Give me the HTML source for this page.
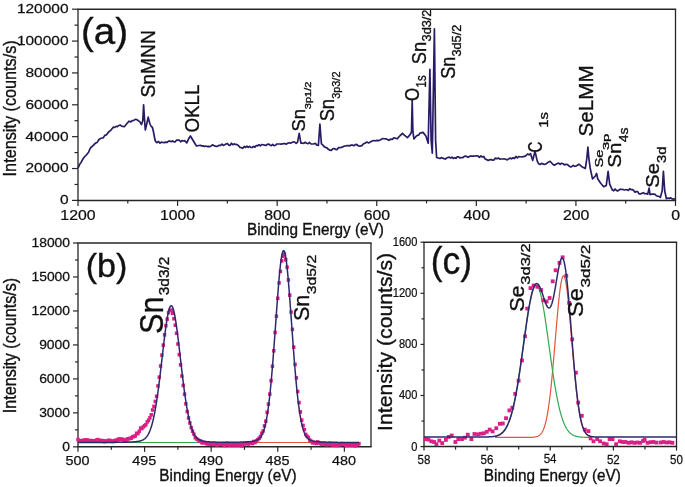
<!DOCTYPE html>
<html><head><meta charset="utf-8"><title>XPS spectra</title>
<style>
html,body{margin:0;padding:0;background:#fff;}
body{width:685px;height:487px;overflow:hidden;}
svg{display:block;}
text{font-family:"Liberation Sans", Arial, Helvetica, sans-serif;}
</style></head><body>
<svg width="685" height="487" viewBox="0 0 685 487">
<rect x="0" y="0" width="685" height="487" fill="#fff"/>
<line x1="77.35" y1="9.2" x2="676.15" y2="9.2" stroke="#262626" stroke-width="1.5"/>
<line x1="77.35" y1="200.4" x2="676.15" y2="200.4" stroke="#262626" stroke-width="1.5"/>
<line x1="78.0" y1="9.2" x2="78.0" y2="200.4" stroke="#262626" stroke-width="1.3"/>
<line x1="675.5" y1="9.2" x2="675.5" y2="200.4" stroke="#262626" stroke-width="1.3"/>
<line x1="675.5" y1="200.4" x2="675.5" y2="205.9" stroke="#262626" stroke-width="1.2"/>
<line x1="575.92" y1="200.4" x2="575.92" y2="205.9" stroke="#262626" stroke-width="1.2"/>
<line x1="476.33" y1="200.4" x2="476.33" y2="205.9" stroke="#262626" stroke-width="1.2"/>
<line x1="376.75" y1="200.4" x2="376.75" y2="205.9" stroke="#262626" stroke-width="1.2"/>
<line x1="277.17" y1="200.4" x2="277.17" y2="205.9" stroke="#262626" stroke-width="1.2"/>
<line x1="177.58" y1="200.4" x2="177.58" y2="205.9" stroke="#262626" stroke-width="1.2"/>
<line x1="78" y1="200.4" x2="78" y2="205.9" stroke="#262626" stroke-width="1.2"/>
<line x1="625.71" y1="200.4" x2="625.71" y2="203.4" stroke="#262626" stroke-width="1.2"/>
<line x1="526.12" y1="200.4" x2="526.12" y2="203.4" stroke="#262626" stroke-width="1.2"/>
<line x1="426.54" y1="200.4" x2="426.54" y2="203.4" stroke="#262626" stroke-width="1.2"/>
<line x1="326.96" y1="200.4" x2="326.96" y2="203.4" stroke="#262626" stroke-width="1.2"/>
<line x1="227.38" y1="200.4" x2="227.38" y2="203.4" stroke="#262626" stroke-width="1.2"/>
<line x1="127.79" y1="200.4" x2="127.79" y2="203.4" stroke="#262626" stroke-width="1.2"/>
<line x1="72" y1="200.4" x2="78.0" y2="200.4" stroke="#262626" stroke-width="1.2"/>
<line x1="72" y1="168.53" x2="78.0" y2="168.53" stroke="#262626" stroke-width="1.2"/>
<line x1="72" y1="136.67" x2="78.0" y2="136.67" stroke="#262626" stroke-width="1.2"/>
<line x1="72" y1="104.8" x2="78.0" y2="104.8" stroke="#262626" stroke-width="1.2"/>
<line x1="72" y1="72.93" x2="78.0" y2="72.93" stroke="#262626" stroke-width="1.2"/>
<line x1="72" y1="41.07" x2="78.0" y2="41.07" stroke="#262626" stroke-width="1.2"/>
<line x1="72" y1="9.2" x2="78.0" y2="9.2" stroke="#262626" stroke-width="1.2"/>
<line x1="74.5" y1="184.47" x2="78.0" y2="184.47" stroke="#262626" stroke-width="1.2"/>
<line x1="74.5" y1="152.6" x2="78.0" y2="152.6" stroke="#262626" stroke-width="1.2"/>
<line x1="74.5" y1="120.73" x2="78.0" y2="120.73" stroke="#262626" stroke-width="1.2"/>
<line x1="74.5" y1="88.87" x2="78.0" y2="88.87" stroke="#262626" stroke-width="1.2"/>
<line x1="74.5" y1="57" x2="78.0" y2="57" stroke="#262626" stroke-width="1.2"/>
<line x1="74.5" y1="25.13" x2="78.0" y2="25.13" stroke="#262626" stroke-width="1.2"/>
<polyline points="78.10,167.80 79.80,164.12 81.50,161.70 83.20,158.50 84.57,156.65 85.93,155.60 87.30,153.80 88.60,152.18 89.90,149.04 91.20,147.03 92.50,146.20 95.50,143.10 97.05,142.57 98.60,140.02 100.15,138.69 101.70,138.00 103.25,137.82 104.80,135.38 106.35,134.92 107.90,132.90 109.27,131.45 110.63,130.41 112.00,128.70 113.37,127.13 114.73,127.40 116.10,126.30 117.47,126.68 118.83,125.48 120.20,125.00 121.57,126.10 122.93,126.51 124.30,126.70 127.40,123.00 129.10,121.21 130.80,121.90 132.50,120.50 133.87,120.37 135.23,119.40 136.60,119.50 139.70,121.60 141.50,124.60 142.80,120.50 143.60,104.90 144.60,120.50 145.30,130.00 146.50,125.00 148.20,117.20 149.80,123.50 151.20,126.50 152.40,127.20 153.50,132.00 155.10,140.50 156.10,142.10 157.10,142.70 158.53,141.49 159.97,143.15 161.40,142.11 162.83,142.47 164.27,142.64 165.70,142.10 167.13,142.38 168.57,141.05 170.00,141.10 171.33,141.73 172.65,140.91 173.98,141.95 175.31,141.79 176.64,140.03 177.96,140.08 179.29,140.22 180.62,141.83 181.95,140.63 183.27,141.01 184.60,140.70 186.80,142.80 188.60,138.96 190.40,136.00 193.40,141.00 196.30,145.80 197.65,145.79 198.99,145.50 200.34,145.40 201.68,145.89 203.03,145.87 204.38,146.55 205.72,146.04 207.07,146.56 208.42,146.38 209.76,146.65 211.11,145.92 212.45,144.78 213.80,145.50 215.16,146.19 216.52,146.31 217.88,146.07 219.24,145.23 220.60,145.44 221.96,144.22 223.32,145.48 224.68,144.81 226.04,144.07 227.40,143.47 228.76,145.11 230.12,145.30 231.48,143.21 232.84,144.67 234.20,143.90 235.66,144.46 237.12,144.65 238.58,145.73 240.04,147.53 241.50,147.70 242.84,148.36 244.18,146.38 245.53,147.48 246.87,146.07 248.21,147.39 249.55,146.38 250.89,147.43 252.23,147.49 253.58,146.29 254.92,147.21 256.26,145.54 257.60,145.80 258.98,144.78 260.36,145.84 261.73,144.50 263.11,144.78 264.49,145.15 265.87,145.51 267.24,144.42 268.62,144.08 270.00,145.00 271.37,145.66 272.74,144.29 274.11,145.56 275.48,145.27 276.84,143.98 278.21,144.01 279.58,143.99 280.95,144.12 282.32,143.86 283.69,143.63 285.06,143.61 286.42,144.17 287.79,143.07 289.16,142.75 290.53,143.23 291.90,142.60 293.30,141.95 294.70,142.01 296.10,143.43 297.50,142.30 299.20,133.30 300.90,143.10 302.33,143.22 303.77,143.36 305.20,142.26 306.63,143.22 308.07,143.66 309.50,142.51 310.93,143.90 312.37,144.01 313.80,143.80 315.33,143.33 316.87,145.08 318.40,145.30 319.90,124.10 321.40,143.80 322.77,144.93 324.13,146.59 325.50,147.40 326.95,147.83 328.40,149.36 329.85,150.17 331.30,150.40 332.76,148.89 334.23,148.51 335.69,149.40 337.15,149.57 338.61,147.54 340.07,147.53 341.54,147.37 343.00,146.70 344.33,146.10 345.67,146.00 347.00,145.69 348.33,145.61 349.67,145.91 351.00,145.06 352.33,145.03 353.67,145.70 355.00,144.90 356.70,144.29 358.40,145.92 360.10,146.20 361.83,145.68 363.57,143.72 365.30,143.10 367.00,142.09 368.70,142.97 370.40,141.90 372.10,140.96 373.80,140.48 375.50,140.80 377.23,140.32 378.97,140.57 380.70,139.80 382.40,138.59 384.10,138.74 385.80,138.80 388.90,140.30 390.60,139.07 392.30,139.30 394.00,137.70 397.10,138.80 400.20,135.50 402.50,133.40 404.30,135.20 407.40,137.70 410.50,134.10 411.50,131.70 412.20,100.50 412.90,131.70 413.90,138.90 415.80,136.70 417.23,135.36 418.67,135.08 420.10,133.10 423.00,132.40 425.90,136.00 428.20,143.20 429.90,69.30 431.10,140.00 432.30,153.20 434.40,28.90 435.60,140.00 436.60,157.50 440.00,158.50 441.33,157.70 442.65,158.00 443.98,158.61 445.31,159.06 446.64,158.03 447.96,157.46 449.29,157.16 450.62,157.98 451.95,157.17 453.27,158.45 454.60,157.70 455.93,158.34 457.25,156.80 458.58,156.91 459.91,157.98 461.24,157.51 462.56,157.77 463.89,156.66 465.22,156.09 466.55,156.34 467.87,157.35 469.20,156.60 470.67,156.00 472.13,156.06 473.60,156.12 475.07,156.02 476.53,155.90 478.00,156.00 479.43,157.26 480.87,155.91 482.30,157.00 483.76,156.49 485.22,159.14 486.68,159.58 488.14,160.39 489.60,159.90 491.07,159.44 492.53,160.26 494.00,159.89 495.47,158.02 496.93,158.86 498.40,158.00 499.87,159.06 501.33,158.99 502.80,158.99 504.27,158.80 505.73,159.23 507.20,159.90 508.65,158.89 510.10,158.12 511.55,158.86 513.00,157.78 514.45,158.52 515.90,156.42 517.35,157.90 518.80,156.60 520.26,156.77 521.71,157.02 523.17,156.70 524.63,156.45 526.09,155.48 527.54,153.99 529.00,154.80 530.50,153.60 532.70,160.40 535.00,151.30 537.20,160.90 538.60,163.80 540.05,164.51 541.50,163.43 542.95,163.88 544.40,164.50 545.83,164.06 547.25,162.95 548.67,161.91 550.10,161.30 553.00,164.50 554.43,165.27 555.87,164.35 557.30,163.55 558.73,163.16 560.17,164.30 561.60,163.30 563.04,163.72 564.49,164.86 565.93,164.39 567.37,164.52 568.81,165.73 570.26,166.83 571.70,166.60 573.14,165.40 574.58,166.28 576.02,166.09 577.46,165.35 578.90,164.20 582.40,167.10 585.30,168.50 586.80,158.70 587.90,147.20 588.90,158.70 590.30,168.80 592.50,178.90 595.40,176.00 596.60,173.40 597.70,178.70 600.30,182.70 603.70,186.70 606.30,185.40 608.10,171.40 609.70,184.10 612.40,190.10 613.72,190.81 615.04,189.02 616.36,190.38 617.68,190.90 619.00,190.10 620.33,189.07 621.67,189.51 623.00,189.46 624.33,189.98 625.67,189.71 627.00,189.77 628.33,190.40 629.67,188.65 631.00,189.70 632.33,189.52 633.67,190.48 635.00,192.10 636.34,191.53 637.68,191.67 639.02,193.92 640.36,193.92 641.70,193.40 643.20,192.66 644.70,193.75 646.20,193.52 647.70,194.10 649.10,188.10 650.00,194.70 651.85,193.99 653.70,194.10 655.04,194.43 656.38,195.74 657.72,196.27 659.06,196.43 660.40,197.40 662.20,190.70 663.40,171.40 664.70,190.70 666.40,198.70 667.85,198.02 669.30,198.32 670.75,197.87 672.20,198.82 673.65,199.18 675.10,198.70" fill="none" stroke="#2a1c64" stroke-width="1.7" stroke-linejoin="round" />
<text transform="translate(59.95,204.33) scale(1.1300,1.0000)" font-size="13.7" fill="#111" stroke="#111" stroke-width="0.25">0</text>
<text transform="translate(25.5,172.46) scale(1.1300,1.0000)" font-size="13.7" fill="#111" stroke="#111" stroke-width="0.25">20000</text>
<text transform="translate(25.5,140.59) scale(1.1300,1.0000)" font-size="13.7" fill="#111" stroke="#111" stroke-width="0.25">40000</text>
<text transform="translate(25.5,108.73) scale(1.1300,1.0000)" font-size="13.7" fill="#111" stroke="#111" stroke-width="0.25">60000</text>
<text transform="translate(25.5,76.86) scale(1.1300,1.0000)" font-size="13.7" fill="#111" stroke="#111" stroke-width="0.25">80000</text>
<text transform="translate(16.91,44.99) scale(1.1300,1.0000)" font-size="13.7" fill="#111" stroke="#111" stroke-width="0.25">100000</text>
<text transform="translate(16.91,13.13) scale(1.1300,1.0000)" font-size="13.7" fill="#111" stroke="#111" stroke-width="0.25">120000</text>
<text transform="translate(671.36,219.68) scale(1.1000,1.0000)" font-size="14.4" fill="#111" stroke="#111" stroke-width="0.25">0</text>
<text transform="translate(562.91,219.68) scale(1.1000,1.0000)" font-size="14.4" fill="#111" stroke="#111" stroke-width="0.25">200</text>
<text transform="translate(463.57,219.68) scale(1.1000,1.0000)" font-size="14.4" fill="#111" stroke="#111" stroke-width="0.25">400</text>
<text transform="translate(363.74,219.68) scale(1.1000,1.0000)" font-size="14.4" fill="#111" stroke="#111" stroke-width="0.25">600</text>
<text transform="translate(264.2,219.68) scale(1.1000,1.0000)" font-size="14.4" fill="#111" stroke="#111" stroke-width="0.25">800</text>
<text transform="translate(159.94,219.68) scale(1.1000,1.0000)" font-size="14.4" fill="#111" stroke="#111" stroke-width="0.25">1000</text>
<text transform="translate(60.36,219.68) scale(1.1000,1.0000)" font-size="14.4" fill="#111" stroke="#111" stroke-width="0.25">1200</text>
<text transform="translate(80.96,43.97) scale(1.0419,1.0000)" font-size="36.95" fill="#111" stroke="#111" stroke-width="0.35">(a)</text>
<text transform="translate(154.62,97.49) rotate(-90) scale(0.9456,1.0000)" font-size="20.35" fill="#111" stroke="#111" stroke-width="0.35">SnMNN</text>
<text transform="translate(199.43,132.47) rotate(-90) scale(0.9485,1.0000)" font-size="19.79" fill="#111" stroke="#111" stroke-width="0.35">OKLL</text>
<text transform="translate(304.54,131.45) rotate(-90) scale(0.9872,1.0000)" font-size="18.66" fill="#111" stroke="#111" stroke-width="0.35">Sn</text>
<text transform="translate(310.67,109.17) rotate(-90) scale(1.2485,1.0000)" font-size="8.82" fill="#111" stroke="#111" stroke-width="0.35">3p1/2</text>
<text transform="translate(333.62,121.35) rotate(-90) scale(0.9071,1.0000)" font-size="20.21" fill="#111" stroke="#111" stroke-width="0.35">Sn</text>
<text transform="translate(340.01,98.86) rotate(-90) scale(1.0379,1.0000)" font-size="10.53" fill="#111" stroke="#111" stroke-width="0.35">3p3/2</text>
<text transform="translate(418.83,100.98) rotate(-90) scale(0.8582,1.0000)" font-size="19.65" fill="#111" stroke="#111" stroke-width="0.35">O</text>
<text transform="translate(425.88,87.38) rotate(-90) scale(0.8084,1.0000)" font-size="14.07" fill="#111" stroke="#111" stroke-width="0.35">1s</text>
<text transform="translate(425.52,64.25) rotate(-90) scale(0.9008,1.0000)" font-size="20.35" fill="#111" stroke="#111" stroke-width="0.35">Sn</text>
<text transform="translate(431.4,41.44) rotate(-90) scale(1.0249,1.0000)" font-size="12.45" fill="#111" stroke="#111" stroke-width="0.35">3d3/2</text>
<text transform="translate(454.83,78.84) rotate(-90) scale(0.9128,1.0000)" font-size="19.79" fill="#111" stroke="#111" stroke-width="0.35">Sn</text>
<text transform="translate(461.19,56.43) rotate(-90) scale(0.9428,1.0000)" font-size="13.4" fill="#111" stroke="#111" stroke-width="0.35">3d5/2</text>
<text transform="translate(541.93,152.48) rotate(-90) scale(0.7600,1.0000)" font-size="19.79" fill="#111" stroke="#111" stroke-width="0.35">C</text>
<text transform="translate(548.39,127.74) rotate(-90) scale(1.0898,1.0000)" font-size="13.64" fill="#111" stroke="#111" stroke-width="0.35">1s</text>
<text transform="translate(593.42,136.46) rotate(-90) scale(1.0318,1.0000)" font-size="20.07" fill="#111" stroke="#111" stroke-width="0.35">SeLMM</text>
<text transform="translate(602.81,167.48) rotate(-90) scale(1.3247,1.0000)" font-size="11.06" fill="#111" stroke="#111" stroke-width="0.35">Se</text>
<text transform="translate(609.48,150.12) rotate(-90) scale(1.5224,1.0000)" font-size="9.73" fill="#111" stroke="#111" stroke-width="0.35">3p</text>
<text transform="translate(620.94,167.65) rotate(-90) scale(1.1286,1.0000)" font-size="18.24" fill="#111" stroke="#111" stroke-width="0.35">Sn</text>
<text transform="translate(628.4,142.3) rotate(-90) scale(1.0790,1.0000)" font-size="12.93" fill="#111" stroke="#111" stroke-width="0.35">4s</text>
<text transform="translate(658.95,187.63) rotate(-90) scale(1.1440,1.0000)" font-size="17.68" fill="#111" stroke="#111" stroke-width="0.35">Se</text>
<text transform="translate(666.4,163.12) rotate(-90) scale(1.1449,1.0000)" font-size="12.99" fill="#111" stroke="#111" stroke-width="0.35">3d</text>
<text transform="translate(15.82,176.39) rotate(-90) scale(0.8502,1.0000)" font-size="19.09" fill="#111" stroke="#111" stroke-width="0.35">Intensity (counts/s)</text>
<text transform="translate(246.95,234.77) scale(0.9571,1.0000)" font-size="15.99" fill="#111" stroke="#111" stroke-width="0.35">Binding Energy (eV)</text>
<line x1="77.35" y1="243.0" x2="371.65" y2="243.0" stroke="#262626" stroke-width="1.5"/>
<line x1="77.35" y1="446.85" x2="371.65" y2="446.85" stroke="#262626" stroke-width="1.5"/>
<line x1="78.0" y1="243.0" x2="78.0" y2="446.85" stroke="#262626" stroke-width="1.3"/>
<line x1="371.0" y1="243.0" x2="371.0" y2="446.85" stroke="#262626" stroke-width="1.3"/>
<line x1="344.36" y1="446.85" x2="344.36" y2="451.85" stroke="#262626" stroke-width="1.2"/>
<line x1="277.77" y1="446.85" x2="277.77" y2="451.85" stroke="#262626" stroke-width="1.2"/>
<line x1="211.18" y1="446.85" x2="211.18" y2="451.85" stroke="#262626" stroke-width="1.2"/>
<line x1="144.59" y1="446.85" x2="144.59" y2="451.85" stroke="#262626" stroke-width="1.2"/>
<line x1="78" y1="446.85" x2="78" y2="451.85" stroke="#262626" stroke-width="1.2"/>
<line x1="311.07" y1="446.85" x2="311.07" y2="449.85" stroke="#262626" stroke-width="1.2"/>
<line x1="244.48" y1="446.85" x2="244.48" y2="449.85" stroke="#262626" stroke-width="1.2"/>
<line x1="177.89" y1="446.85" x2="177.89" y2="449.85" stroke="#262626" stroke-width="1.2"/>
<line x1="111.3" y1="446.85" x2="111.3" y2="449.85" stroke="#262626" stroke-width="1.2"/>
<line x1="73" y1="446.85" x2="78.0" y2="446.85" stroke="#262626" stroke-width="1.2"/>
<line x1="73" y1="412.88" x2="78.0" y2="412.88" stroke="#262626" stroke-width="1.2"/>
<line x1="73" y1="378.9" x2="78.0" y2="378.9" stroke="#262626" stroke-width="1.2"/>
<line x1="73" y1="344.93" x2="78.0" y2="344.93" stroke="#262626" stroke-width="1.2"/>
<line x1="73" y1="310.95" x2="78.0" y2="310.95" stroke="#262626" stroke-width="1.2"/>
<line x1="73" y1="276.98" x2="78.0" y2="276.98" stroke="#262626" stroke-width="1.2"/>
<line x1="73" y1="243" x2="78.0" y2="243" stroke="#262626" stroke-width="1.2"/>
<line x1="75" y1="429.86" x2="78.0" y2="429.86" stroke="#262626" stroke-width="1.2"/>
<line x1="75" y1="395.89" x2="78.0" y2="395.89" stroke="#262626" stroke-width="1.2"/>
<line x1="75" y1="361.91" x2="78.0" y2="361.91" stroke="#262626" stroke-width="1.2"/>
<line x1="75" y1="327.94" x2="78.0" y2="327.94" stroke="#262626" stroke-width="1.2"/>
<line x1="75" y1="293.96" x2="78.0" y2="293.96" stroke="#262626" stroke-width="1.2"/>
<line x1="75" y1="259.99" x2="78.0" y2="259.99" stroke="#262626" stroke-width="1.2"/>
<line x1="78.0" y1="442.49" x2="224.5" y2="442.49" stroke="#2fa84f" stroke-width="1.2"/>
<line x1="224.5" y1="442.49" x2="359.01" y2="442.49" stroke="#e0553a" stroke-width="1.2"/>
<g fill="#dc1f86"><rect x="357.31" y="441.90" width="3.4" height="3.6"/><rect x="355.98" y="442.66" width="3.4" height="3.6"/><rect x="354.65" y="442.85" width="3.4" height="3.6"/><rect x="353.32" y="443.96" width="3.4" height="3.6"/><rect x="351.99" y="443.06" width="3.4" height="3.6"/><rect x="350.65" y="443.10" width="3.4" height="3.6"/><rect x="349.32" y="442.93" width="3.4" height="3.6"/><rect x="347.99" y="443.23" width="3.4" height="3.6"/><rect x="346.66" y="442.90" width="3.4" height="3.6"/><rect x="345.33" y="443.13" width="3.4" height="3.6"/><rect x="344.00" y="443.59" width="3.4" height="3.6"/><rect x="342.66" y="442.33" width="3.4" height="3.6"/><rect x="341.33" y="442.31" width="3.4" height="3.6"/><rect x="340.00" y="441.83" width="3.4" height="3.6"/><rect x="338.67" y="442.74" width="3.4" height="3.6"/><rect x="337.34" y="442.97" width="3.4" height="3.6"/><rect x="336.00" y="443.02" width="3.4" height="3.6"/><rect x="334.67" y="443.55" width="3.4" height="3.6"/><rect x="333.34" y="442.08" width="3.4" height="3.6"/><rect x="332.01" y="443.22" width="3.4" height="3.6"/><rect x="330.68" y="443.22" width="3.4" height="3.6"/><rect x="329.35" y="442.60" width="3.4" height="3.6"/><rect x="328.01" y="441.58" width="3.4" height="3.6"/><rect x="326.68" y="442.22" width="3.4" height="3.6"/><rect x="325.35" y="442.85" width="3.4" height="3.6"/><rect x="324.02" y="442.58" width="3.4" height="3.6"/><rect x="322.69" y="441.72" width="3.4" height="3.6"/><rect x="321.35" y="442.04" width="3.4" height="3.6"/><rect x="320.02" y="442.25" width="3.4" height="3.6"/><rect x="318.69" y="441.78" width="3.4" height="3.6"/><rect x="317.36" y="441.05" width="3.4" height="3.6"/><rect x="316.03" y="440.13" width="3.4" height="3.6"/><rect x="314.70" y="441.68" width="3.4" height="3.6"/><rect x="313.36" y="440.99" width="3.4" height="3.6"/><rect x="312.03" y="440.65" width="3.4" height="3.6"/><rect x="310.70" y="440.98" width="3.4" height="3.6"/><rect x="309.37" y="439.36" width="3.4" height="3.6"/><rect x="308.04" y="438.35" width="3.4" height="3.6"/><rect x="306.70" y="435.69" width="3.4" height="3.6"/><rect x="305.37" y="434.43" width="3.4" height="3.6"/><rect x="304.04" y="432.60" width="3.4" height="3.6"/><rect x="302.71" y="427.75" width="3.4" height="3.6"/><rect x="301.38" y="423.63" width="3.4" height="3.6"/><rect x="300.05" y="418.37" width="3.4" height="3.6"/><rect x="298.71" y="410.11" width="3.4" height="3.6"/><rect x="297.38" y="400.75" width="3.4" height="3.6"/><rect x="296.05" y="389.70" width="3.4" height="3.6"/><rect x="294.72" y="376.13" width="3.4" height="3.6"/><rect x="293.39" y="362.65" width="3.4" height="3.6"/><rect x="292.05" y="345.36" width="3.4" height="3.6"/><rect x="290.72" y="327.54" width="3.4" height="3.6"/><rect x="289.39" y="310.28" width="3.4" height="3.6"/><rect x="288.06" y="293.37" width="3.4" height="3.6"/><rect x="286.73" y="278.16" width="3.4" height="3.6"/><rect x="285.40" y="265.36" width="3.4" height="3.6"/><rect x="284.06" y="257.90" width="3.4" height="3.6"/><rect x="282.73" y="252.35" width="3.4" height="3.6"/><rect x="281.40" y="254.39" width="3.4" height="3.6"/><rect x="280.07" y="259.08" width="3.4" height="3.6"/><rect x="278.74" y="269.57" width="3.4" height="3.6"/><rect x="277.40" y="281.10" width="3.4" height="3.6"/><rect x="276.07" y="296.55" width="3.4" height="3.6"/><rect x="274.74" y="314.39" width="3.4" height="3.6"/><rect x="273.41" y="330.64" width="3.4" height="3.6"/><rect x="272.08" y="349.00" width="3.4" height="3.6"/><rect x="270.75" y="364.46" width="3.4" height="3.6"/><rect x="269.41" y="378.92" width="3.4" height="3.6"/><rect x="268.08" y="392.31" width="3.4" height="3.6"/><rect x="266.75" y="402.31" width="3.4" height="3.6"/><rect x="265.42" y="410.47" width="3.4" height="3.6"/><rect x="264.09" y="419.43" width="3.4" height="3.6"/><rect x="262.75" y="424.11" width="3.4" height="3.6"/><rect x="261.42" y="429.16" width="3.4" height="3.6"/><rect x="260.09" y="431.45" width="3.4" height="3.6"/><rect x="258.76" y="434.70" width="3.4" height="3.6"/><rect x="257.43" y="436.46" width="3.4" height="3.6"/><rect x="256.10" y="437.84" width="3.4" height="3.6"/><rect x="254.76" y="439.07" width="3.4" height="3.6"/><rect x="253.43" y="440.74" width="3.4" height="3.6"/><rect x="252.10" y="439.71" width="3.4" height="3.6"/><rect x="250.77" y="441.70" width="3.4" height="3.6"/><rect x="249.44" y="441.12" width="3.4" height="3.6"/><rect x="248.10" y="441.17" width="3.4" height="3.6"/><rect x="246.77" y="442.20" width="3.4" height="3.6"/><rect x="245.44" y="441.82" width="3.4" height="3.6"/><rect x="244.11" y="441.40" width="3.4" height="3.6"/><rect x="242.78" y="442.20" width="3.4" height="3.6"/><rect x="241.45" y="442.80" width="3.4" height="3.6"/><rect x="240.11" y="444.05" width="3.4" height="3.6"/><rect x="238.78" y="443.03" width="3.4" height="3.6"/><rect x="237.45" y="442.89" width="3.4" height="3.6"/><rect x="236.12" y="442.91" width="3.4" height="3.6"/><rect x="234.79" y="443.21" width="3.4" height="3.6"/><rect x="233.45" y="442.50" width="3.4" height="3.6"/><rect x="232.12" y="443.07" width="3.4" height="3.6"/><rect x="230.79" y="442.83" width="3.4" height="3.6"/><rect x="229.46" y="442.41" width="3.4" height="3.6"/><rect x="228.13" y="443.29" width="3.4" height="3.6"/><rect x="226.80" y="442.98" width="3.4" height="3.6"/><rect x="225.46" y="441.59" width="3.4" height="3.6"/><rect x="224.13" y="442.31" width="3.4" height="3.6"/><rect x="222.80" y="443.52" width="3.4" height="3.6"/><rect x="221.47" y="442.82" width="3.4" height="3.6"/><rect x="220.14" y="442.42" width="3.4" height="3.6"/><rect x="218.80" y="442.01" width="3.4" height="3.6"/><rect x="217.47" y="442.59" width="3.4" height="3.6"/><rect x="216.14" y="442.92" width="3.4" height="3.6"/><rect x="214.81" y="442.98" width="3.4" height="3.6"/><rect x="213.48" y="442.13" width="3.4" height="3.6"/><rect x="212.15" y="442.24" width="3.4" height="3.6"/><rect x="210.81" y="442.62" width="3.4" height="3.6"/><rect x="209.48" y="442.33" width="3.4" height="3.6"/><rect x="208.15" y="442.34" width="3.4" height="3.6"/><rect x="206.82" y="441.55" width="3.4" height="3.6"/><rect x="205.49" y="442.17" width="3.4" height="3.6"/><rect x="204.15" y="441.29" width="3.4" height="3.6"/><rect x="202.82" y="440.80" width="3.4" height="3.6"/><rect x="201.49" y="440.66" width="3.4" height="3.6"/><rect x="200.16" y="440.95" width="3.4" height="3.6"/><rect x="198.83" y="439.12" width="3.4" height="3.6"/><rect x="197.50" y="439.48" width="3.4" height="3.6"/><rect x="196.16" y="437.82" width="3.4" height="3.6"/><rect x="194.83" y="437.07" width="3.4" height="3.6"/><rect x="193.50" y="435.80" width="3.4" height="3.6"/><rect x="192.17" y="432.34" width="3.4" height="3.6"/><rect x="190.84" y="429.35" width="3.4" height="3.6"/><rect x="189.50" y="425.87" width="3.4" height="3.6"/><rect x="188.17" y="421.14" width="3.4" height="3.6"/><rect x="186.84" y="416.21" width="3.4" height="3.6"/><rect x="185.51" y="409.81" width="3.4" height="3.6"/><rect x="184.18" y="402.02" width="3.4" height="3.6"/><rect x="182.85" y="392.38" width="3.4" height="3.6"/><rect x="181.51" y="383.63" width="3.4" height="3.6"/><rect x="180.18" y="374.27" width="3.4" height="3.6"/><rect x="178.85" y="363.04" width="3.4" height="3.6"/><rect x="177.52" y="352.81" width="3.4" height="3.6"/><rect x="176.19" y="342.18" width="3.4" height="3.6"/><rect x="174.85" y="331.47" width="3.4" height="3.6"/><rect x="173.52" y="323.43" width="3.4" height="3.6"/><rect x="172.19" y="316.93" width="3.4" height="3.6"/><rect x="170.86" y="311.48" width="3.4" height="3.6"/><rect x="169.53" y="308.42" width="3.4" height="3.6"/><rect x="168.20" y="308.60" width="3.4" height="3.6"/><rect x="166.86" y="310.86" width="3.4" height="3.6"/><rect x="165.53" y="317.31" width="3.4" height="3.6"/><rect x="164.20" y="323.88" width="3.4" height="3.6"/><rect x="162.87" y="333.01" width="3.4" height="3.6"/><rect x="161.54" y="343.34" width="3.4" height="3.6"/><rect x="160.20" y="353.34" width="3.4" height="3.6"/><rect x="158.87" y="364.21" width="3.4" height="3.6"/><rect x="157.54" y="375.38" width="3.4" height="3.6"/><rect x="156.21" y="384.14" width="3.4" height="3.6"/><rect x="154.88" y="394.50" width="3.4" height="3.6"/><rect x="153.55" y="399.65" width="3.4" height="3.6"/><rect x="152.21" y="404.55" width="3.4" height="3.6"/><rect x="150.88" y="408.17" width="3.4" height="3.6"/><rect x="149.55" y="413.02" width="3.4" height="3.6"/><rect x="148.22" y="415.91" width="3.4" height="3.6"/><rect x="146.89" y="418.44" width="3.4" height="3.6"/><rect x="145.55" y="420.00" width="3.4" height="3.6"/><rect x="144.22" y="422.93" width="3.4" height="3.6"/><rect x="142.89" y="423.86" width="3.4" height="3.6"/><rect x="141.56" y="425.08" width="3.4" height="3.6"/><rect x="140.23" y="426.78" width="3.4" height="3.6"/><rect x="138.90" y="426.32" width="3.4" height="3.6"/><rect x="137.56" y="429.48" width="3.4" height="3.6"/><rect x="136.23" y="431.76" width="3.4" height="3.6"/><rect x="134.90" y="431.49" width="3.4" height="3.6"/><rect x="133.57" y="434.20" width="3.4" height="3.6"/><rect x="132.24" y="434.64" width="3.4" height="3.6"/><rect x="130.90" y="435.03" width="3.4" height="3.6"/><rect x="129.57" y="436.29" width="3.4" height="3.6"/><rect x="128.24" y="436.56" width="3.4" height="3.6"/><rect x="126.91" y="436.99" width="3.4" height="3.6"/><rect x="125.58" y="437.12" width="3.4" height="3.6"/><rect x="124.25" y="438.31" width="3.4" height="3.6"/><rect x="122.91" y="438.42" width="3.4" height="3.6"/><rect x="121.58" y="437.91" width="3.4" height="3.6"/><rect x="120.25" y="437.34" width="3.4" height="3.6"/><rect x="118.92" y="437.66" width="3.4" height="3.6"/><rect x="117.59" y="437.12" width="3.4" height="3.6"/><rect x="116.25" y="437.79" width="3.4" height="3.6"/><rect x="114.92" y="438.62" width="3.4" height="3.6"/><rect x="113.59" y="438.54" width="3.4" height="3.6"/><rect x="112.26" y="439.76" width="3.4" height="3.6"/><rect x="110.93" y="439.28" width="3.4" height="3.6"/><rect x="109.60" y="439.45" width="3.4" height="3.6"/><rect x="108.26" y="438.73" width="3.4" height="3.6"/><rect x="106.93" y="438.53" width="3.4" height="3.6"/><rect x="105.60" y="439.23" width="3.4" height="3.6"/><rect x="104.27" y="439.25" width="3.4" height="3.6"/><rect x="102.94" y="439.80" width="3.4" height="3.6"/><rect x="101.60" y="439.00" width="3.4" height="3.6"/><rect x="100.27" y="438.79" width="3.4" height="3.6"/><rect x="98.94" y="438.68" width="3.4" height="3.6"/><rect x="97.61" y="439.38" width="3.4" height="3.6"/><rect x="96.28" y="437.81" width="3.4" height="3.6"/><rect x="94.95" y="438.26" width="3.4" height="3.6"/><rect x="93.61" y="438.99" width="3.4" height="3.6"/><rect x="92.28" y="439.23" width="3.4" height="3.6"/><rect x="90.95" y="439.11" width="3.4" height="3.6"/><rect x="89.62" y="438.84" width="3.4" height="3.6"/><rect x="88.29" y="438.93" width="3.4" height="3.6"/><rect x="86.95" y="438.64" width="3.4" height="3.6"/><rect x="85.62" y="438.48" width="3.4" height="3.6"/><rect x="84.29" y="438.13" width="3.4" height="3.6"/><rect x="82.96" y="438.25" width="3.4" height="3.6"/><rect x="81.63" y="438.95" width="3.4" height="3.6"/><rect x="80.30" y="438.67" width="3.4" height="3.6"/><rect x="78.96" y="439.10" width="3.4" height="3.6"/><rect x="77.63" y="439.20" width="3.4" height="3.6"/><rect x="76.30" y="437.78" width="3.4" height="3.6"/></g>
<polyline points="359.01,442.48 358.75,442.48 358.48,442.48 358.21,442.48 357.95,442.47 357.68,442.47 357.42,442.47 357.15,442.47 356.88,442.47 356.62,442.47 356.35,442.47 356.08,442.47 355.82,442.47 355.55,442.47 355.28,442.47 355.02,442.47 354.75,442.47 354.49,442.47 354.22,442.47 353.95,442.47 353.69,442.47 353.42,442.47 353.15,442.46 352.89,442.46 352.62,442.46 352.35,442.46 352.09,442.46 351.82,442.46 351.56,442.46 351.29,442.46 351.02,442.46 350.76,442.46 350.49,442.46 350.22,442.46 349.96,442.46 349.69,442.45 349.42,442.45 349.16,442.45 348.89,442.45 348.63,442.45 348.36,442.45 348.09,442.45 347.83,442.45 347.56,442.45 347.29,442.44 347.03,442.44 346.76,442.44 346.49,442.44 346.23,442.44 345.96,442.44 345.70,442.44 345.43,442.43 345.16,442.43 344.90,442.43 344.63,442.43 344.36,442.43 344.10,442.43 343.83,442.43 343.56,442.42 343.30,442.42 343.03,442.42 342.77,442.42 342.50,442.42 342.23,442.41 341.97,442.41 341.70,442.41 341.43,442.41 341.17,442.41 340.90,442.40 340.63,442.40 340.37,442.40 340.10,442.40 339.84,442.39 339.57,442.39 339.30,442.39 339.04,442.39 338.77,442.38 338.50,442.38 338.24,442.38 337.97,442.38 337.70,442.37 337.44,442.37 337.17,442.37 336.91,442.36 336.64,442.36 336.37,442.36 336.11,442.35 335.84,442.35 335.57,442.35 335.31,442.34 335.04,442.34 334.77,442.33 334.51,442.33 334.24,442.33 333.98,442.32 333.71,442.32 333.44,442.31 333.18,442.31 332.91,442.31 332.64,442.30 332.38,442.30 332.11,442.29 331.84,442.29 331.58,442.28 331.31,442.28 331.05,442.27 330.78,442.26 330.51,442.26 330.25,442.25 329.98,442.25 329.71,442.24 329.45,442.23 329.18,442.23 328.91,442.22 328.65,442.22 328.38,442.21 328.12,442.20 327.85,442.19 327.58,442.19 327.32,442.18 327.05,442.17 326.78,442.16 326.52,442.16 326.25,442.15 325.98,442.14 325.72,442.13 325.45,442.12 325.19,442.11 324.92,442.10 324.65,442.09 324.39,442.08 324.12,442.07 323.85,442.06 323.59,442.05 323.32,442.04 323.05,442.03 322.79,442.02 322.52,442.01 322.26,441.99 321.99,441.98 321.72,441.97 321.46,441.95 321.19,441.94 320.92,441.93 320.66,441.91 320.39,441.90 320.12,441.88 319.86,441.86 319.59,441.85 319.33,441.83 319.06,441.81 318.79,441.79 318.53,441.77 318.26,441.75 317.99,441.73 317.73,441.71 317.46,441.69 317.19,441.66 316.93,441.64 316.66,441.61 316.40,441.58 316.13,441.56 315.86,441.52 315.60,441.49 315.33,441.46 315.06,441.42 314.80,441.38 314.53,441.34 314.26,441.30 314.00,441.25 313.73,441.20 313.47,441.15 313.20,441.09 312.93,441.03 312.67,440.96 312.40,440.89 312.13,440.82 311.87,440.74 311.60,440.65 311.33,440.56 311.07,440.45 310.80,440.35 310.54,440.23 310.27,440.10 310.00,439.96 309.74,439.82 309.47,439.66 309.20,439.49 308.94,439.30 308.67,439.10 308.40,438.89 308.14,438.65 307.87,438.40 307.61,438.13 307.34,437.84 307.07,437.53 306.81,437.19 306.54,436.83 306.27,436.45 306.01,436.03 305.74,435.58 305.47,435.10 305.21,434.59 304.94,434.04 304.68,433.46 304.41,432.83 304.14,432.16 303.88,431.45 303.61,430.69 303.34,429.88 303.08,429.02 302.81,428.11 302.54,427.14 302.28,426.12 302.01,425.03 301.75,423.88 301.48,422.67 301.21,421.39 300.95,420.04 300.68,418.61 300.41,417.12 300.15,415.55 299.88,413.90 299.61,412.17 299.35,410.37 299.08,408.48 298.82,406.50 298.55,404.45 298.28,402.30 298.02,400.08 297.75,397.76 297.48,395.36 297.22,392.87 296.95,390.30 296.68,387.64 296.42,384.89 296.15,382.06 295.89,379.15 295.62,376.16 295.35,373.09 295.09,369.95 294.82,366.73 294.55,363.44 294.29,360.09 294.02,356.68 293.75,353.21 293.49,349.69 293.22,346.12 292.96,342.51 292.69,338.86 292.42,335.19 292.16,331.49 291.89,327.78 291.62,324.05 291.36,320.33 291.09,316.61 290.82,312.91 290.56,309.23 290.29,305.59 290.03,301.98 289.76,298.42 289.49,294.92 289.23,291.49 288.96,288.14 288.69,284.87 288.43,281.70 288.16,278.64 287.89,275.68 287.63,272.86 287.36,270.16 287.10,267.61 286.83,265.20 286.56,262.96 286.30,260.88 286.03,258.97 285.76,257.25 285.50,255.71 285.23,254.36 284.96,253.22 284.70,252.27 284.43,251.53 284.17,251.00 283.90,250.68 283.63,250.58 283.37,250.68 283.10,251.00 282.83,251.53 282.57,252.27 282.30,253.22 282.03,254.36 281.77,255.71 281.50,257.25 281.24,258.97 280.97,260.88 280.70,262.96 280.44,265.20 280.17,267.61 279.90,270.16 279.64,272.85 279.37,275.68 279.10,278.63 278.84,281.70 278.57,284.87 278.31,288.14 278.04,291.49 277.77,294.92 277.51,298.42 277.24,301.98 276.97,305.58 276.71,309.23 276.44,312.91 276.17,316.61 275.91,320.33 275.64,324.05 275.38,327.77 275.11,331.49 274.84,335.19 274.58,338.86 274.31,342.51 274.04,346.12 273.78,349.69 273.51,353.21 273.24,356.68 272.98,360.09 272.71,363.44 272.45,366.73 272.18,369.95 271.91,373.09 271.65,376.16 271.38,379.15 271.11,382.06 270.85,384.89 270.58,387.63 270.31,390.29 270.05,392.87 269.78,395.36 269.52,397.76 269.25,400.07 268.98,402.30 268.72,404.44 268.45,406.50 268.18,408.47 267.92,410.36 267.65,412.17 267.38,413.90 267.12,415.54 266.85,417.12 266.59,418.61 266.32,420.03 266.05,421.38 265.79,422.66 265.52,423.88 265.25,425.02 264.99,426.11 264.72,427.14 264.45,428.11 264.19,429.02 263.92,429.88 263.66,430.68 263.39,431.44 263.12,432.16 262.86,432.82 262.59,433.45 262.32,434.04 262.06,434.59 261.79,435.10 261.52,435.58 261.26,436.02 260.99,436.44 260.73,436.83 260.46,437.19 260.19,437.52 259.93,437.84 259.66,438.13 259.39,438.39 259.13,438.64 258.86,438.88 258.59,439.09 258.33,439.29 258.06,439.48 257.80,439.65 257.53,439.81 257.26,439.95 257.00,440.09 256.73,440.22 256.46,440.34 256.20,440.44 255.93,440.54 255.66,440.64 255.40,440.73 255.13,440.81 254.87,440.88 254.60,440.95 254.33,441.02 254.07,441.08 253.80,441.13 253.53,441.19 253.27,441.24 253.00,441.28 252.73,441.33 252.47,441.37 252.20,441.41 251.94,441.44 251.67,441.48 251.40,441.51 251.14,441.54 250.87,441.57 250.60,441.59 250.34,441.62 250.07,441.64 249.80,441.67 249.54,441.69 249.27,441.71 249.01,441.73 248.74,441.75 248.47,441.77 248.21,441.79 247.94,441.81 247.67,441.82 247.41,441.84 247.14,441.86 246.87,441.87 246.61,441.89 246.34,441.90 246.08,441.91 245.81,441.93 245.54,441.94 245.28,441.95 245.01,441.96 244.74,441.97 244.48,441.99 244.21,442.00 243.94,442.01 243.68,442.02 243.41,442.03 243.15,442.04 242.88,442.05 242.61,442.06 242.35,442.06 242.08,442.07 241.81,442.08 241.55,442.09 241.28,442.10 241.01,442.10 240.75,442.11 240.48,442.12 240.22,442.13 239.95,442.13 239.68,442.14 239.42,442.15 239.15,442.15 238.88,442.16 238.62,442.16 238.35,442.17 238.08,442.17 237.82,442.18 237.55,442.18 237.29,442.19 237.02,442.19 236.75,442.20 236.49,442.20 236.22,442.21 235.95,442.21 235.69,442.21 235.42,442.22 235.15,442.22 234.89,442.22 234.62,442.23 234.36,442.23 234.09,442.23 233.82,442.24 233.56,442.24 233.29,442.24 233.02,442.24 232.76,442.24 232.49,442.25 232.22,442.25 231.96,442.25 231.69,442.25 231.43,442.25 231.16,442.25 230.89,442.26 230.63,442.26 230.36,442.26 230.09,442.26 229.83,442.26 229.56,442.26 229.29,442.26 229.03,442.26 228.76,442.26 228.50,442.26 228.23,442.26 227.96,442.26 227.70,442.26 227.43,442.26 227.16,442.26 226.90,442.26 226.63,442.26 226.36,442.26 226.10,442.26 225.83,442.26 225.57,442.25 225.30,442.25 225.03,442.25 224.77,442.25 224.50,442.25 224.23,442.25 223.97,442.24 223.70,442.24 223.43,442.24 223.17,442.24 222.90,442.23 222.64,442.23 222.37,442.23 222.10,442.23 221.84,442.22 221.57,442.22 221.30,442.22 221.04,442.21 220.77,442.21 220.50,442.21 220.24,442.20 219.97,442.20 219.71,442.19 219.44,442.19 219.17,442.19 218.91,442.18 218.64,442.18 218.37,442.17 218.11,442.17 217.84,442.16 217.57,442.16 217.31,442.15 217.04,442.15 216.78,442.14 216.51,442.13 216.24,442.13 215.98,442.12 215.71,442.11 215.44,442.11 215.18,442.10 214.91,442.09 214.64,442.09 214.38,442.08 214.11,442.07 213.85,442.06 213.58,442.05 213.31,442.04 213.05,442.03 212.78,442.03 212.51,442.02 212.25,442.01 211.98,442.00 211.71,441.98 211.45,441.97 211.18,441.96 210.92,441.95 210.65,441.94 210.38,441.92 210.12,441.91 209.85,441.90 209.58,441.88 209.32,441.87 209.05,441.85 208.78,441.83 208.52,441.82 208.25,441.80 207.99,441.78 207.72,441.76 207.45,441.74 207.19,441.71 206.92,441.69 206.65,441.67 206.39,441.64 206.12,441.61 205.85,441.58 205.59,441.55 205.32,441.52 205.06,441.48 204.79,441.44 204.52,441.40 204.26,441.36 203.99,441.31 203.72,441.27 203.46,441.21 203.19,441.16 202.92,441.10 202.66,441.04 202.39,440.97 202.13,440.90 201.86,440.82 201.59,440.74 201.33,440.65 201.06,440.56 200.79,440.46 200.53,440.35 200.26,440.24 199.99,440.12 199.73,439.99 199.46,439.85 199.20,439.70 198.93,439.54 198.66,439.37 198.40,439.19 198.13,439.00 197.86,438.80 197.60,438.58 197.33,438.35 197.06,438.10 196.80,437.84 196.53,437.56 196.27,437.26 196.00,436.94 195.73,436.61 195.47,436.26 195.20,435.88 194.93,435.48 194.67,435.06 194.40,434.61 194.13,434.14 193.87,433.65 193.60,433.12 193.34,432.57 193.07,431.98 192.80,431.37 192.54,430.73 192.27,430.05 192.00,429.33 191.74,428.59 191.47,427.80 191.20,426.98 190.94,426.12 190.67,425.22 190.41,424.29 190.14,423.31 189.87,422.28 189.61,421.22 189.34,420.11 189.07,418.96 188.81,417.76 188.54,416.52 188.27,415.23 188.01,413.89 187.74,412.51 187.48,411.08 187.21,409.60 186.94,408.08 186.68,406.51 186.41,404.89 186.14,403.23 185.88,401.52 185.61,399.76 185.34,397.96 185.08,396.12 184.81,394.23 184.55,392.30 184.28,390.33 184.01,388.32 183.75,386.27 183.48,384.19 183.21,382.08 182.95,379.93 182.68,377.75 182.41,375.55 182.15,373.32 181.88,371.07 181.62,368.80 181.35,366.51 181.08,364.21 180.82,361.90 180.55,359.59 180.28,357.27 180.02,354.95 179.75,352.64 179.48,350.33 179.22,348.04 178.95,345.76 178.69,343.51 178.42,341.28 178.15,339.07 177.89,336.90 177.62,334.77 177.35,332.68 177.09,330.64 176.82,328.65 176.55,326.71 176.29,324.84 176.02,323.02 175.76,321.28 175.49,319.61 175.22,318.02 174.96,316.50 174.69,315.08 174.42,313.74 174.16,312.49 173.89,311.34 173.62,310.29 173.36,309.34 173.09,308.50 172.83,307.76 172.56,307.13 172.29,306.62 172.03,306.21 171.76,305.93 171.49,305.75 171.23,305.70 170.96,305.75 170.69,305.93 170.43,306.22 170.16,306.62 169.90,307.13 169.63,307.76 169.36,308.50 169.10,309.34 168.83,310.29 168.56,311.34 168.30,312.49 168.03,313.74 167.76,315.08 167.50,316.50 167.23,318.02 166.97,319.61 166.70,321.28 166.43,323.02 166.17,324.84 165.90,326.71 165.63,328.65 165.37,330.64 165.10,332.68 164.83,334.77 164.57,336.90 164.30,339.07 164.04,341.28 163.77,343.51 163.50,345.76 163.24,348.04 162.97,350.33 162.70,352.64 162.44,354.95 162.17,357.27 161.90,359.59 161.64,361.90 161.37,364.21 161.11,366.51 160.84,368.80 160.57,371.07 160.31,373.32 160.04,375.55 159.77,377.75 159.51,379.93 159.24,382.08 158.97,384.19 158.71,386.28 158.44,388.32 158.18,390.33 157.91,392.30 157.64,394.23 157.38,396.12 157.11,397.96 156.84,399.76 156.58,401.52 156.31,403.23 156.04,404.89 155.78,406.51 155.51,408.08 155.25,409.60 154.98,411.08 154.71,412.51 154.45,413.89 154.18,415.23 153.91,416.52 153.65,417.76 153.38,418.96 153.11,420.11 152.85,421.22 152.58,422.28 152.32,423.31 152.05,424.29 151.78,425.23 151.52,426.12 151.25,426.98 150.98,427.80 150.72,428.59 150.45,429.34 150.18,430.05 149.92,430.73 149.65,431.37 149.39,431.99 149.12,432.57 148.85,433.12 148.59,433.65 148.32,434.15 148.05,434.62 147.79,435.06 147.52,435.48 147.25,435.88 146.99,436.26 146.72,436.61 146.46,436.95 146.19,437.26 145.92,437.56 145.66,437.84 145.39,438.10 145.12,438.35 144.86,438.58 144.59,438.80 144.32,439.01 144.06,439.20 143.79,439.38 143.53,439.55 143.26,439.71 142.99,439.85 142.73,439.99 142.46,440.12 142.19,440.25 141.93,440.36 141.66,440.47 141.39,440.57 141.13,440.66 140.86,440.75 140.60,440.83 140.33,440.91 140.06,440.98 139.80,441.04 139.53,441.11 139.26,441.17 139.00,441.22 138.73,441.27 138.46,441.32 138.20,441.37 137.93,441.41 137.67,441.45 137.40,441.49 137.13,441.53 136.87,441.56 136.60,441.59 136.33,441.62 136.07,441.65 135.80,441.68 135.53,441.70 135.27,441.73 135.00,441.75 134.74,441.77 134.47,441.79 134.20,441.81 133.94,441.83 133.67,441.85 133.40,441.87 133.14,441.88 132.87,441.90 132.60,441.91 132.34,441.93 132.07,441.94 131.81,441.95 131.54,441.97 131.27,441.98 131.01,441.99 130.74,442.00 130.47,442.02 130.21,442.03 129.94,442.04 129.67,442.05 129.41,442.06 129.14,442.07 128.88,442.08 128.61,442.09 128.34,442.09 128.08,442.10 127.81,442.11 127.54,442.12 127.28,442.13 127.01,442.14 126.74,442.14 126.48,442.15 126.21,442.16 125.95,442.17 125.68,442.17 125.41,442.18 125.15,442.19 124.88,442.19 124.61,442.20 124.35,442.20 124.08,442.21 123.81,442.22 123.55,442.22 123.28,442.23 123.02,442.23 122.75,442.24 122.48,442.24 122.22,442.25 121.95,442.25 121.68,442.26 121.42,442.26 121.15,442.27 120.88,442.27 120.62,442.28 120.35,442.28 120.09,442.29 119.82,442.29 119.55,442.30 119.29,442.30 119.02,442.30 118.75,442.31 118.49,442.31 118.22,442.32 117.95,442.32 117.69,442.32 117.42,442.33 117.16,442.33 116.89,442.33 116.62,442.34 116.36,442.34 116.09,442.34 115.82,442.35 115.56,442.35 115.29,442.35 115.02,442.36 114.76,442.36 114.49,442.36 114.23,442.36 113.96,442.37 113.69,442.37 113.43,442.37 113.16,442.37 112.89,442.38 112.63,442.38 112.36,442.38 112.09,442.38 111.83,442.39 111.56,442.39 111.30,442.39 111.03,442.39 110.76,442.40 110.50,442.40 110.23,442.40 109.96,442.40 109.70,442.40 109.43,442.41 109.16,442.41 108.90,442.41 108.63,442.41 108.37,442.41 108.10,442.41 107.83,442.42 107.57,442.42 107.30,442.42 107.03,442.42 106.77,442.42 106.50,442.42 106.23,442.43 105.97,442.43 105.70,442.43 105.44,442.43 105.17,442.43 104.90,442.43 104.64,442.43 104.37,442.43 104.10,442.44 103.84,442.44 103.57,442.44 103.30,442.44 103.04,442.44 102.77,442.44 102.51,442.44 102.24,442.44 101.97,442.45 101.71,442.45 101.44,442.45 101.17,442.45 100.91,442.45 100.64,442.45 100.37,442.45 100.11,442.45 99.84,442.45 99.58,442.45 99.31,442.45 99.04,442.46 98.78,442.46 98.51,442.46 98.24,442.46 97.98,442.46 97.71,442.46 97.44,442.46 97.18,442.46 96.91,442.46 96.65,442.46 96.38,442.46 96.11,442.46 95.85,442.46 95.58,442.46 95.31,442.47 95.05,442.47 94.78,442.47 94.51,442.47 94.25,442.47 93.98,442.47 93.72,442.47 93.45,442.47 93.18,442.47 92.92,442.47 92.65,442.47 92.38,442.47 92.12,442.47 91.85,442.47 91.58,442.47 91.32,442.47 91.05,442.47 90.79,442.47 90.52,442.47 90.25,442.47 89.99,442.47 89.72,442.47 89.45,442.48 89.19,442.48 88.92,442.48 88.65,442.48 88.39,442.48 88.12,442.48 87.86,442.48 87.59,442.48 87.32,442.48 87.06,442.48 86.79,442.48 86.52,442.48 86.26,442.48 85.99,442.48 85.72,442.48 85.46,442.48 85.19,442.48 84.93,442.48 84.66,442.48 84.39,442.48 84.13,442.48 83.86,442.48 83.59,442.48 83.33,442.48 83.06,442.48 82.79,442.48 82.53,442.48 82.26,442.48 82.00,442.48 81.73,442.48 81.46,442.48 81.20,442.48 80.93,442.48 80.66,442.48 80.40,442.48 80.13,442.48 79.86,442.48 79.60,442.48 79.33,442.48 79.07,442.48 78.80,442.48 78.53,442.48 78.27,442.48 78.00,442.49" fill="none" stroke="#2d2a6c" stroke-width="1.5" stroke-linejoin="round" />
<text transform="translate(62.37,451.34) scale(1.0700,1.0000)" font-size="13" fill="#111" stroke="#111" stroke-width="0.25">0</text>
<text transform="translate(39.14,417.36) scale(1.0700,1.0000)" font-size="13" fill="#111" stroke="#111" stroke-width="0.25">3000</text>
<text transform="translate(39.14,383.38) scale(1.0700,1.0000)" font-size="13" fill="#111" stroke="#111" stroke-width="0.25">6000</text>
<text transform="translate(39.14,349.41) scale(1.0700,1.0000)" font-size="13" fill="#111" stroke="#111" stroke-width="0.25">9000</text>
<text transform="translate(31.42,315.44) scale(1.0700,1.0000)" font-size="13" fill="#111" stroke="#111" stroke-width="0.25">12000</text>
<text transform="translate(31.42,281.46) scale(1.0700,1.0000)" font-size="13" fill="#111" stroke="#111" stroke-width="0.25">15000</text>
<text transform="translate(31.42,247.48) scale(1.0700,1.0000)" font-size="13" fill="#111" stroke="#111" stroke-width="0.25">18000</text>
<text transform="translate(332.09,465.24) scale(1.0900,1.0000)" font-size="13.2" fill="#111" stroke="#111" stroke-width="0.25">480</text>
<text transform="translate(265.54,465.24) scale(1.0900,1.0000)" font-size="13.2" fill="#111" stroke="#111" stroke-width="0.25">485</text>
<text transform="translate(198.91,465.24) scale(1.0900,1.0000)" font-size="13.2" fill="#111" stroke="#111" stroke-width="0.25">490</text>
<text transform="translate(132.36,465.24) scale(1.0900,1.0000)" font-size="13.2" fill="#111" stroke="#111" stroke-width="0.25">495</text>
<text transform="translate(65.59,465.24) scale(1.0900,1.0000)" font-size="13.2" fill="#111" stroke="#111" stroke-width="0.25">500</text>
<text transform="translate(85.63,277.03) scale(1.0523,1.0000)" font-size="32.35" fill="#111" stroke="#111" stroke-width="0.35">(b)</text>
<text transform="translate(162.5,333.91) rotate(-90) scale(0.9436,1.0000)" font-size="32.61" fill="#111" stroke="#111" stroke-width="0.35">Sn</text>
<text transform="translate(168.78,295.24) rotate(-90) scale(1.0470,1.0000)" font-size="14.76" fill="#111" stroke="#111" stroke-width="0.35">3d3/2</text>
<text transform="translate(309.3,321.1) rotate(-90) scale(0.9645,1.0000)" font-size="22.46" fill="#111" stroke="#111" stroke-width="0.35">Sn</text>
<text transform="translate(316.49,294.36) rotate(-90) scale(1.1577,1.0000)" font-size="13.67" fill="#111" stroke="#111" stroke-width="0.35">3d5/2</text>
<text transform="translate(15.66,413.18) rotate(-90) scale(0.8554,1.0000)" font-size="18.88" fill="#111" stroke="#111" stroke-width="0.35">Intensity (counts/s)</text>
<text transform="translate(159.35,480.98) scale(0.9350,1.0000)" font-size="16.42" fill="#111" stroke="#111" stroke-width="0.35">Binding Energy (eV)</text>
<line x1="423.35" y1="242.2" x2="677.15" y2="242.2" stroke="#262626" stroke-width="1.5"/>
<line x1="423.35" y1="446.6" x2="677.15" y2="446.6" stroke="#262626" stroke-width="1.5"/>
<line x1="424.0" y1="242.2" x2="424.0" y2="446.6" stroke="#262626" stroke-width="1.3"/>
<line x1="676.5" y1="242.2" x2="676.5" y2="446.6" stroke="#262626" stroke-width="1.3"/>
<line x1="676.5" y1="446.6" x2="676.5" y2="450.6" stroke="#262626" stroke-width="1.2"/>
<line x1="613.38" y1="446.6" x2="613.38" y2="450.6" stroke="#262626" stroke-width="1.2"/>
<line x1="550.25" y1="446.6" x2="550.25" y2="450.6" stroke="#262626" stroke-width="1.2"/>
<line x1="487.12" y1="446.6" x2="487.12" y2="450.6" stroke="#262626" stroke-width="1.2"/>
<line x1="424" y1="446.6" x2="424" y2="450.6" stroke="#262626" stroke-width="1.2"/>
<line x1="644.94" y1="446.6" x2="644.94" y2="449.6" stroke="#262626" stroke-width="1.2"/>
<line x1="581.81" y1="446.6" x2="581.81" y2="449.6" stroke="#262626" stroke-width="1.2"/>
<line x1="518.69" y1="446.6" x2="518.69" y2="449.6" stroke="#262626" stroke-width="1.2"/>
<line x1="455.56" y1="446.6" x2="455.56" y2="449.6" stroke="#262626" stroke-width="1.2"/>
<line x1="420.5" y1="446.6" x2="424.0" y2="446.6" stroke="#262626" stroke-width="1.2"/>
<line x1="420.5" y1="395.5" x2="424.0" y2="395.5" stroke="#262626" stroke-width="1.2"/>
<line x1="420.5" y1="344.4" x2="424.0" y2="344.4" stroke="#262626" stroke-width="1.2"/>
<line x1="420.5" y1="293.3" x2="424.0" y2="293.3" stroke="#262626" stroke-width="1.2"/>
<line x1="420.5" y1="242.2" x2="424.0" y2="242.2" stroke="#262626" stroke-width="1.2"/>
<line x1="421.5" y1="421.05" x2="424.0" y2="421.05" stroke="#262626" stroke-width="1.2"/>
<line x1="421.5" y1="369.95" x2="424.0" y2="369.95" stroke="#262626" stroke-width="1.2"/>
<line x1="421.5" y1="318.85" x2="424.0" y2="318.85" stroke="#262626" stroke-width="1.2"/>
<line x1="421.5" y1="267.75" x2="424.0" y2="267.75" stroke="#262626" stroke-width="1.2"/>
<polyline points="590.33,436.66 590.02,436.56 589.70,436.45 589.39,436.32 589.07,436.18 588.76,436.03 588.44,435.86 588.13,435.67 587.81,435.45 587.49,435.22 587.18,434.96 586.86,434.67 586.55,434.35 586.23,434.01 585.92,433.62 585.60,433.21 585.28,432.75 584.97,432.25 584.65,431.70 584.34,431.11 584.02,430.46 583.71,429.76 583.39,429.01 583.08,428.19 582.76,427.30 582.44,426.35 582.13,425.32 581.81,424.22 581.50,423.04 581.18,421.78 580.87,420.44 580.55,419.00 580.23,417.47 579.92,415.85 579.60,414.13 579.29,412.32 578.97,410.39 578.66,408.37 578.34,406.24 578.03,404.00 577.71,401.66 577.39,399.21 577.08,396.65 576.76,393.99 576.45,391.22 576.13,388.35 575.82,385.37 575.50,382.30 575.18,379.13 574.87,375.88 574.55,372.53 574.24,369.11 573.92,365.61 573.61,362.05 573.29,358.43 572.98,354.76 572.66,351.04 572.34,347.30 572.03,343.53 571.71,339.75 571.40,335.96 571.08,332.19 570.77,328.44 570.45,324.73 570.13,321.06 569.82,317.45 569.50,313.91 569.19,310.46 568.87,307.11 568.56,303.86 568.24,300.74 567.93,297.76 567.61,294.92 567.29,292.24 566.98,289.73 566.66,287.40 566.35,285.26 566.03,283.32 565.72,281.59 565.40,280.08 565.08,278.78 564.77,277.71 564.45,276.88 564.14,276.28 563.82,275.92 563.51,275.80 563.19,275.92 562.88,276.28 562.56,276.88 562.24,277.71 561.93,278.78 561.61,280.08 561.30,281.59 560.98,283.32 560.67,285.26 560.35,287.40 560.03,289.73 559.72,292.24 559.40,294.92 559.09,297.76 558.77,300.74 558.46,303.86 558.14,307.11 557.83,310.46 557.51,313.91 557.19,317.45 556.88,321.06 556.56,324.73 556.25,328.44 555.93,332.19 555.62,335.96 555.30,339.75 554.98,343.53 554.67,347.30 554.35,351.04 554.04,354.76 553.72,358.43 553.41,362.05 553.09,365.61 552.78,369.11 552.46,372.53 552.14,375.88 551.83,379.13 551.51,382.30 551.20,385.37 550.88,388.35 550.57,391.22 550.25,393.99 549.93,396.65 549.62,399.21 549.30,401.66 548.99,404.00 548.67,406.24 548.36,408.37 548.04,410.39 547.73,412.32 547.41,414.13 547.09,415.85 546.78,417.47 546.46,419.00 546.15,420.44 545.83,421.78 545.52,423.04 545.20,424.22 544.88,425.32 544.57,426.35 544.25,427.30 543.94,428.19 543.62,429.01 543.31,429.76 542.99,430.46 542.68,431.11 542.36,431.70 542.04,432.25 541.73,432.75 541.41,433.21 541.10,433.62 540.78,434.01 540.47,434.35 540.15,434.67 539.83,434.96 539.52,435.22 539.20,435.45 538.89,435.67 538.57,435.86 538.26,436.03 537.94,436.18 537.63,436.32 537.31,436.45 536.99,436.56 536.68,436.66 536.36,436.75 536.05,436.83 535.73,436.90 535.42,436.96 535.10,437.02 534.78,437.06 534.47,437.11 534.15,437.15 533.84,437.18 533.52,437.21 533.21,437.23 532.89,437.26 532.58,437.28 532.26,437.29 531.94,437.31 531.63,437.32 531.31,437.33 531.00,437.34 530.68,437.35 530.37,437.36 530.05,437.36 529.73,437.37 529.42,437.37 529.10,437.38 528.79,437.38 528.47,437.39 528.16,437.39 527.84,437.39 527.53,437.39 527.21,437.39 526.89,437.39 526.58,437.40 526.26,437.40 525.95,437.40 525.63,437.40 525.32,437.40 525.00,437.40 524.68,437.40 524.37,437.40 524.05,437.40 523.74,437.40 523.42,437.40 523.11,437.40 522.79,437.40 522.48,437.40 522.16,437.40 521.84,437.40 521.53,437.40 521.21,437.40 520.90,437.40 520.58,437.40 520.27,437.40 519.95,437.40 519.63,437.40 519.32,437.40 519.00,437.40 518.69,437.40 518.37,437.40 518.06,437.40 517.74,437.40 517.43,437.40 517.11,437.40 516.79,437.40 516.48,437.40 516.16,437.40 515.85,437.40 515.53,437.40 515.22,437.40 514.90,437.40 514.58,437.40 514.27,437.40 513.95,437.40 513.64,437.40 513.32,437.40 513.01,437.40 512.69,437.40 512.38,437.40 512.06,437.40 511.74,437.40 511.43,437.40 511.11,437.40 510.80,437.40 510.48,437.40 510.17,437.40 509.85,437.40 509.53,437.40 509.22,437.40 508.90,437.40 508.59,437.40 508.27,437.40 507.96,437.40 507.64,437.40 507.33,437.40 507.01,437.40 506.69,437.40 506.38,437.40 506.06,437.40 505.75,437.40 505.43,437.40 505.12,437.40 504.80,437.40 504.48,437.40 504.17,437.40 503.85,437.40 503.54,437.40 503.22,437.40 502.91,437.40 502.59,437.40 502.28,437.40 501.96,437.40 501.64,437.40 501.33,437.40 501.01,437.40 500.70,437.40 500.38,437.40 500.07,437.40 499.75,437.40 499.43,437.40 499.12,437.40 498.80,437.40 498.49,437.40 498.17,437.40 497.86,437.40 497.54,437.40 497.23,437.40 496.91,437.40 496.59,437.40 496.28,437.40 495.96,437.40 495.65,437.40 495.33,437.40 495.02,437.40" fill="none" stroke="#e0553a" stroke-width="1.2" stroke-linejoin="round" />
<polyline points="590.33,437.38 590.02,437.38 589.70,437.38 589.39,437.38 589.07,437.37 588.76,437.37 588.44,437.37 588.13,437.36 587.81,437.36 587.49,437.36 587.18,437.35 586.86,437.35 586.55,437.34 586.23,437.33 585.92,437.33 585.60,437.32 585.28,437.31 584.97,437.30 584.65,437.29 584.34,437.28 584.02,437.27 583.71,437.26 583.39,437.24 583.08,437.23 582.76,437.21 582.44,437.19 582.13,437.17 581.81,437.15 581.50,437.13 581.18,437.11 580.87,437.08 580.55,437.05 580.23,437.02 579.92,436.98 579.60,436.95 579.29,436.91 578.97,436.86 578.66,436.82 578.34,436.77 578.03,436.71 577.71,436.65 577.39,436.59 577.08,436.52 576.76,436.45 576.45,436.37 576.13,436.29 575.82,436.20 575.50,436.10 575.18,436.00 574.87,435.89 574.55,435.77 574.24,435.65 573.92,435.51 573.61,435.37 573.29,435.21 572.98,435.05 572.66,434.88 572.34,434.69 572.03,434.50 571.71,434.29 571.40,434.07 571.08,433.83 570.77,433.58 570.45,433.32 570.13,433.04 569.82,432.74 569.50,432.43 569.19,432.09 568.87,431.74 568.56,431.37 568.24,430.98 567.93,430.57 567.61,430.14 567.29,429.69 566.98,429.21 566.66,428.70 566.35,428.17 566.03,427.62 565.72,427.04 565.40,426.43 565.08,425.79 564.77,425.12 564.45,424.42 564.14,423.70 563.82,422.93 563.51,422.14 563.19,421.31 562.88,420.45 562.56,419.55 562.24,418.62 561.93,417.65 561.61,416.64 561.30,415.59 560.98,414.51 560.67,413.38 560.35,412.22 560.03,411.02 559.72,409.77 559.40,408.49 559.09,407.16 558.77,405.79 558.46,404.38 558.14,402.93 557.83,401.44 557.51,399.90 557.19,398.33 556.88,396.71 556.56,395.05 556.25,393.35 555.93,391.62 555.62,389.84 555.30,388.02 554.98,386.17 554.67,384.28 554.35,382.35 554.04,380.39 553.72,378.39 553.41,376.36 553.09,374.30 552.78,372.21 552.46,370.10 552.14,367.96 551.83,365.79 551.51,363.60 551.20,361.39 550.88,359.16 550.57,356.92 550.25,354.66 549.93,352.40 549.62,350.12 549.30,347.84 548.99,345.56 548.67,343.27 548.36,340.99 548.04,338.71 547.73,336.44 547.41,334.18 547.09,331.94 546.78,329.71 546.46,327.51 546.15,325.32 545.83,323.17 545.52,321.04 545.20,318.95 544.88,316.90 544.57,314.88 544.25,312.91 543.94,310.98 543.62,309.10 543.31,307.28 542.99,305.51 542.68,303.79 542.36,302.14 542.04,300.55 541.73,299.03 541.41,297.58 541.10,296.20 540.78,294.89 540.47,293.66 540.15,292.50 539.83,291.43 539.52,290.44 539.20,289.54 538.89,288.72 538.57,287.98 538.26,287.34 537.94,286.79 537.63,286.32 537.31,285.95 536.99,285.67 536.68,285.48 536.36,285.39 536.05,285.39 535.73,285.48 535.42,285.67 535.10,285.95 534.78,286.32 534.47,286.79 534.15,287.34 533.84,287.98 533.52,288.72 533.21,289.54 532.89,290.44 532.58,291.43 532.26,292.50 531.94,293.66 531.63,294.89 531.31,296.20 531.00,297.58 530.68,299.03 530.37,300.55 530.05,302.14 529.73,303.79 529.42,305.51 529.10,307.28 528.79,309.10 528.47,310.98 528.16,312.91 527.84,314.88 527.53,316.90 527.21,318.95 526.89,321.04 526.58,323.17 526.26,325.32 525.95,327.51 525.63,329.71 525.32,331.94 525.00,334.18 524.68,336.44 524.37,338.71 524.05,340.99 523.74,343.27 523.42,345.56 523.11,347.84 522.79,350.12 522.48,352.40 522.16,354.66 521.84,356.92 521.53,359.16 521.21,361.39 520.90,363.60 520.58,365.79 520.27,367.96 519.95,370.10 519.63,372.21 519.32,374.30 519.00,376.36 518.69,378.39 518.37,380.39 518.06,382.35 517.74,384.28 517.43,386.17 517.11,388.02 516.79,389.84 516.48,391.62 516.16,393.35 515.85,395.05 515.53,396.71 515.22,398.33 514.90,399.90 514.58,401.44 514.27,402.93 513.95,404.38 513.64,405.79 513.32,407.16 513.01,408.49 512.69,409.77 512.38,411.02 512.06,412.22 511.74,413.38 511.43,414.51 511.11,415.59 510.80,416.64 510.48,417.65 510.17,418.62 509.85,419.55 509.53,420.45 509.22,421.31 508.90,422.14 508.59,422.93 508.27,423.70 507.96,424.42 507.64,425.12 507.33,425.79 507.01,426.43 506.69,427.04 506.38,427.62 506.06,428.17 505.75,428.70 505.43,429.21 505.12,429.69 504.80,430.14 504.48,430.57 504.17,430.98 503.85,431.37 503.54,431.74 503.22,432.09 502.91,432.43 502.59,432.74 502.28,433.04 501.96,433.32 501.64,433.58 501.33,433.83 501.01,434.07 500.70,434.29 500.38,434.50 500.07,434.69 499.75,434.88 499.43,435.05 499.12,435.21 498.80,435.37 498.49,435.51 498.17,435.65 497.86,435.77 497.54,435.89 497.23,436.00 496.91,436.10 496.59,436.20 496.28,436.29 495.96,436.37 495.65,436.45 495.33,436.52 495.02,436.59" fill="none" stroke="#2fa84f" stroke-width="1.2" stroke-linejoin="round" />
<g fill="#dc1f86"><rect x="423.60" y="437.20" width="3.8" height="3.8"/><rect x="426.50" y="437.70" width="3.8" height="3.8"/><rect x="429.40" y="439.40" width="3.8" height="3.8"/><rect x="432.30" y="440.10" width="3.8" height="3.8"/><rect x="434.50" y="442.30" width="3.8" height="3.8"/><rect x="437.40" y="438.70" width="3.8" height="3.8"/><rect x="440.30" y="441.20" width="3.8" height="3.8"/><rect x="444.00" y="438.00" width="3.8" height="3.8"/><rect x="446.90" y="435.00" width="3.8" height="3.8"/><rect x="449.80" y="433.60" width="3.8" height="3.8"/><rect x="453.50" y="440.10" width="3.8" height="3.8"/><rect x="456.40" y="437.20" width="3.8" height="3.8"/><rect x="460.10" y="437.20" width="3.8" height="3.8"/><rect x="463.00" y="435.80" width="3.8" height="3.8"/><rect x="465.90" y="432.80" width="3.8" height="3.8"/><rect x="469.50" y="437.20" width="3.8" height="3.8"/><rect x="472.50" y="432.10" width="3.8" height="3.8"/><rect x="476.10" y="432.40" width="3.8" height="3.8"/><rect x="479.00" y="431.80" width="3.8" height="3.8"/><rect x="482.00" y="431.40" width="3.8" height="3.8"/><rect x="484.90" y="429.90" width="3.8" height="3.8"/><rect x="487.80" y="427.70" width="3.8" height="3.8"/><rect x="490.70" y="429.50" width="3.8" height="3.8"/><rect x="494.40" y="426.30" width="3.8" height="3.8"/><rect x="498.00" y="421.90" width="3.8" height="3.8"/><rect x="500.90" y="421.60" width="3.8" height="3.8"/><rect x="504.10" y="416.30" width="3.8" height="3.8"/><rect x="507.50" y="408.50" width="3.8" height="3.8"/><rect x="510.40" y="405.80" width="3.8" height="3.8"/><rect x="513.30" y="392.00" width="3.8" height="3.8"/><rect x="516.70" y="378.80" width="3.8" height="3.8"/><rect x="520.10" y="358.50" width="3.8" height="3.8"/><rect x="523.10" y="334.40" width="3.8" height="3.8"/><rect x="525.30" y="306.70" width="3.8" height="3.8"/><rect x="528.60" y="286.20" width="3.8" height="3.8"/><rect x="531.70" y="283.60" width="3.8" height="3.8"/><rect x="535.60" y="284.90" width="3.8" height="3.8"/><rect x="539.10" y="288.10" width="3.8" height="3.8"/><rect x="541.60" y="298.50" width="3.8" height="3.8"/><rect x="544.70" y="299.60" width="3.8" height="3.8"/><rect x="547.70" y="296.10" width="3.8" height="3.8"/><rect x="550.80" y="279.40" width="3.8" height="3.8"/><rect x="553.70" y="268.40" width="3.8" height="3.8"/><rect x="557.60" y="261.00" width="3.8" height="3.8"/><rect x="560.70" y="255.40" width="3.8" height="3.8"/><rect x="564.40" y="273.90" width="3.8" height="3.8"/><rect x="567.20" y="301.00" width="3.8" height="3.8"/><rect x="570.30" y="337.50" width="3.8" height="3.8"/><rect x="574.00" y="370.80" width="3.8" height="3.8"/><rect x="576.30" y="400.70" width="3.8" height="3.8"/><rect x="579.90" y="413.90" width="3.8" height="3.8"/><rect x="582.90" y="427.70" width="3.8" height="3.8"/><rect x="586.50" y="429.20" width="3.8" height="3.8"/><rect x="588.70" y="436.50" width="3.8" height="3.8"/><rect x="591.60" y="439.40" width="3.8" height="3.8"/><rect x="595.30" y="437.20" width="3.8" height="3.8"/><rect x="598.20" y="439.40" width="3.8" height="3.8"/><rect x="601.80" y="441.60" width="3.8" height="3.8"/><rect x="604.80" y="442.30" width="3.8" height="3.8"/><rect x="607.70" y="437.20" width="3.8" height="3.8"/><rect x="610.60" y="437.20" width="3.8" height="3.8"/><rect x="614.20" y="442.30" width="3.8" height="3.8"/><rect x="617.90" y="439.40" width="3.8" height="3.8"/><rect x="620.60" y="440.10" width="3.8" height="3.8"/><rect x="623.60" y="440.10" width="3.8" height="3.8"/><rect x="626.70" y="440.90" width="3.8" height="3.8"/><rect x="629.60" y="440.40" width="3.8" height="3.8"/><rect x="632.50" y="440.90" width="3.8" height="3.8"/><rect x="635.40" y="440.60" width="3.8" height="3.8"/><rect x="638.30" y="440.90" width="3.8" height="3.8"/><rect x="641.10" y="439.10" width="3.8" height="3.8"/><rect x="642.70" y="438.00" width="3.8" height="3.8"/><rect x="645.60" y="440.90" width="3.8" height="3.8"/><rect x="648.60" y="440.30" width="3.8" height="3.8"/><rect x="651.50" y="440.10" width="3.8" height="3.8"/><rect x="654.60" y="440.70" width="3.8" height="3.8"/><rect x="658.80" y="440.60" width="3.8" height="3.8"/><rect x="661.60" y="440.10" width="3.8" height="3.8"/><rect x="664.60" y="440.60" width="3.8" height="3.8"/><rect x="667.60" y="440.40" width="3.8" height="3.8"/><rect x="670.50" y="440.90" width="3.8" height="3.8"/></g>
<polyline points="676.50,437.02 676.18,437.02 675.87,437.02 675.55,437.02 675.24,437.02 674.92,437.02 674.61,437.02 674.29,437.02 673.98,437.02 673.66,437.02 673.34,437.02 673.03,437.02 672.71,437.02 672.40,437.02 672.08,437.02 671.77,437.02 671.45,437.02 671.13,437.02 670.82,437.02 670.50,437.02 670.19,437.02 669.87,437.02 669.56,437.02 669.24,437.02 668.93,437.02 668.61,437.02 668.29,437.02 667.98,437.02 667.66,437.02 667.35,437.02 667.03,437.02 666.72,437.02 666.40,437.02 666.08,437.02 665.77,437.02 665.45,437.02 665.14,437.02 664.82,437.02 664.51,437.02 664.19,437.02 663.88,437.02 663.56,437.02 663.24,437.02 662.93,437.02 662.61,437.02 662.30,437.02 661.98,437.02 661.67,437.02 661.35,437.02 661.03,437.02 660.72,437.02 660.40,437.02 660.09,437.02 659.77,437.02 659.46,437.02 659.14,437.02 658.83,437.02 658.51,437.02 658.19,437.02 657.88,437.02 657.56,437.02 657.25,437.02 656.93,437.02 656.62,437.02 656.30,437.02 655.98,437.02 655.67,437.02 655.35,437.02 655.04,437.02 654.72,437.02 654.41,437.02 654.09,437.02 653.78,437.02 653.46,437.02 653.14,437.02 652.83,437.02 652.51,437.02 652.20,437.02 651.88,437.02 651.57,437.02 651.25,437.02 650.93,437.02 650.62,437.02 650.30,437.02 649.99,437.02 649.67,437.02 649.36,437.02 649.04,437.02 648.73,437.02 648.41,437.02 648.09,437.02 647.78,437.02 647.46,437.02 647.15,437.02 646.83,437.02 646.52,437.02 646.20,437.02 645.88,437.02 645.57,437.02 645.25,437.02 644.94,437.02 644.62,437.02 644.31,437.02 643.99,437.02 643.68,437.02 643.36,437.02 643.04,437.02 642.73,437.02 642.41,437.02 642.10,437.02 641.78,437.02 641.47,437.02 641.15,437.02 640.83,437.02 640.52,437.02 640.20,437.02 639.89,437.02 639.57,437.02 639.26,437.02 638.94,437.02 638.63,437.02 638.31,437.02 637.99,437.02 637.68,437.02 637.36,437.02 637.05,437.02 636.73,437.02 636.42,437.02 636.10,437.02 635.78,437.02 635.47,437.02 635.15,437.02 634.84,437.02 634.52,437.02 634.21,437.02 633.89,437.02 633.58,437.02 633.26,437.02 632.94,437.02 632.63,437.02 632.31,437.02 632.00,437.02 631.68,437.02 631.37,437.02 631.05,437.02 630.73,437.02 630.42,437.02 630.10,437.02 629.79,437.02 629.47,437.02 629.16,437.02 628.84,437.02 628.53,437.02 628.21,437.02 627.89,437.02 627.58,437.02 627.26,437.02 626.95,437.02 626.63,437.02 626.32,437.02 626.00,437.02 625.68,437.02 625.37,437.02 625.05,437.02 624.74,437.02 624.42,437.02 624.11,437.02 623.79,437.02 623.48,437.02 623.16,437.02 622.84,437.02 622.53,437.02 622.21,437.02 621.90,437.02 621.58,437.02 621.27,437.02 620.95,437.02 620.63,437.02 620.32,437.02 620.00,437.02 619.69,437.02 619.37,437.02 619.06,437.02 618.74,437.02 618.43,437.02 618.11,437.02 617.79,437.02 617.48,437.02 617.16,437.02 616.85,437.02 616.53,437.02 616.22,437.02 615.90,437.02 615.58,437.02 615.27,437.02 614.95,437.02 614.64,437.02 614.32,437.02 614.01,437.02 613.69,437.02 613.38,437.02 613.06,437.02 612.74,437.02 612.43,437.02 612.11,437.02 611.80,437.02 611.48,437.02 611.17,437.02 610.85,437.02 610.53,437.02 610.22,437.02 609.90,437.02 609.59,437.02 609.27,437.02 608.96,437.02 608.64,437.02 608.33,437.02 608.01,437.02 607.69,437.02 607.38,437.02 607.06,437.02 606.75,437.02 606.43,437.02 606.12,437.02 605.80,437.02 605.48,437.02 605.17,437.02 604.85,437.02 604.54,437.02 604.22,437.02 603.91,437.02 603.59,437.02 603.28,437.02 602.96,437.02 602.64,437.02 602.33,437.02 602.01,437.02 601.70,437.02 601.38,437.01 601.07,437.01 600.75,437.01 600.43,437.01 600.12,437.01 599.80,437.01 599.49,437.01 599.17,437.01 598.86,437.00 598.54,437.00 598.23,437.00 597.91,436.99 597.59,436.99 597.28,436.99 596.96,436.98 596.65,436.97 596.33,436.97 596.02,436.96 595.70,436.95 595.38,436.93 595.07,436.92 594.75,436.91 594.44,436.89 594.12,436.87 593.81,436.84 593.49,436.82 593.18,436.79 592.86,436.75 592.54,436.72 592.23,436.67 591.91,436.62 591.60,436.57 591.28,436.50 590.97,436.43 590.65,436.35 590.33,436.26 590.02,436.16 589.70,436.04 589.39,435.92 589.07,435.77 588.76,435.62 588.44,435.44 588.13,435.25 587.81,435.03 587.49,434.79 587.18,434.52 586.86,434.23 586.55,433.91 586.23,433.56 585.92,433.17 585.60,432.74 585.28,432.27 584.97,431.77 584.65,431.21 584.34,430.61 584.02,429.95 583.71,429.24 583.39,428.46 583.08,427.63 582.76,426.73 582.44,425.76 582.13,424.71 581.81,423.59 581.50,422.39 581.18,421.10 580.87,419.73 580.55,418.26 580.23,416.71 579.92,415.05 579.60,413.29 579.29,411.44 578.97,409.47 578.66,407.40 578.34,405.22 578.03,402.93 577.71,400.53 577.39,398.02 577.08,395.39 576.76,392.65 576.45,389.81 576.13,386.85 575.82,383.78 575.50,380.62 575.18,377.35 574.87,373.98 574.55,370.52 574.24,366.97 573.92,363.34 573.61,359.63 573.29,355.86 572.98,352.02 572.66,348.13 572.34,344.20 572.03,340.23 571.71,336.24 571.40,332.23 571.08,328.22 570.77,324.22 570.45,320.24 570.13,316.29 569.82,312.38 569.50,308.52 569.19,304.73 568.87,301.02 568.56,297.40 568.24,293.89 567.93,290.48 567.61,287.20 567.29,284.06 566.98,281.06 566.66,278.22 566.35,275.53 566.03,273.02 565.72,270.69 565.40,268.55 565.08,266.60 564.77,264.84 564.45,263.28 564.14,261.92 563.82,260.77 563.51,259.82 563.19,259.08 562.88,258.54 562.56,258.20 562.24,258.05 561.93,258.10 561.61,258.33 561.30,258.75 560.98,259.34 560.67,260.09 560.35,261.00 560.03,262.05 559.72,263.24 559.40,264.56 559.09,265.99 558.77,267.52 558.46,269.14 558.14,270.84 557.83,272.61 557.51,274.42 557.19,276.28 556.88,278.17 556.56,280.08 556.25,281.99 555.93,283.89 555.62,285.78 555.30,287.63 554.98,289.45 554.67,291.22 554.35,292.93 554.04,294.58 553.72,296.15 553.41,297.64 553.09,299.05 552.78,300.36 552.46,301.58 552.14,302.69 551.83,303.71 551.51,304.61 551.20,305.41 550.88,306.09 550.57,306.67 550.25,307.14 549.93,307.50 549.62,307.75 549.30,307.90 548.99,307.95 548.67,307.89 548.36,307.74 548.04,307.50 547.73,307.18 547.41,306.77 547.09,306.28 546.78,305.72 546.46,305.09 546.15,304.41 545.83,303.66 545.52,302.87 545.20,302.04 544.88,301.17 544.57,300.27 544.25,299.34 543.94,298.40 543.62,297.44 543.31,296.47 542.99,295.51 542.68,294.55 542.36,293.60 542.04,292.67 541.73,291.75 541.41,290.87 541.10,290.01 540.78,289.19 540.47,288.42 540.15,287.68 539.83,287.00 539.52,286.37 539.20,285.79 538.89,285.28 538.57,284.82 538.26,284.44 537.94,284.12 537.63,283.88 537.31,283.70 536.99,283.61 536.68,283.59 536.36,283.65 536.05,283.78 535.73,284.00 535.42,284.30 535.10,284.69 534.78,285.15 534.47,285.70 534.15,286.33 533.84,287.05 533.52,287.84 533.21,288.72 532.89,289.67 532.58,290.71 532.26,291.82 531.94,293.01 531.63,294.27 531.31,295.61 531.00,297.02 530.68,298.49 530.37,300.03 530.05,301.64 529.73,303.31 529.42,305.03 529.10,306.82 528.79,308.65 528.47,310.54 528.16,312.47 527.84,314.45 527.53,316.48 527.21,318.54 526.89,320.63 526.58,322.76 526.26,324.92 525.95,327.11 525.63,329.31 525.32,331.54 525.00,333.79 524.68,336.05 524.37,338.32 524.05,340.60 523.74,342.88 523.42,345.17 523.11,347.45 522.79,349.74 522.48,352.01 522.16,354.28 521.84,356.54 521.53,358.78 521.21,361.01 520.90,363.22 520.58,365.40 520.27,367.57 519.95,369.71 519.63,371.83 519.32,373.92 519.00,375.98 518.69,378.01 518.37,380.00 518.06,381.96 517.74,383.89 517.43,385.78 517.11,387.64 516.79,389.45 516.48,391.23 516.16,392.97 515.85,394.67 515.53,396.33 515.22,397.94 514.90,399.52 514.58,401.05 514.27,402.55 513.95,404.00 513.64,405.41 513.32,406.78 513.01,408.10 512.69,409.39 512.38,410.63 512.06,411.84 511.74,413.00 511.43,414.12 511.11,415.21 510.80,416.25 510.48,417.26 510.17,418.23 509.85,419.17 509.53,420.07 509.22,420.93 508.90,421.76 508.59,422.55 508.27,423.31 507.96,424.04 507.64,424.74 507.33,425.41 507.01,426.05 506.69,426.66 506.38,427.24 506.06,427.79 505.75,428.32 505.43,428.82 505.12,429.30 504.80,429.76 504.48,430.19 504.17,430.60 503.85,430.99 503.54,431.36 503.22,431.71 502.91,432.04 502.59,432.36 502.28,432.65 501.96,432.93 501.64,433.20 501.33,433.45 501.01,433.68 500.70,433.90 500.38,434.11 500.07,434.31 499.75,434.50 499.43,434.67 499.12,434.83 498.80,434.98 498.49,435.13 498.17,435.26 497.86,435.39 497.54,435.51 497.23,435.62 496.91,435.72 496.59,435.82 496.28,435.90 495.96,435.99 495.65,436.07 495.33,436.14 495.02,436.21 494.70,436.27 494.38,436.33 494.07,436.38 493.75,436.43 493.44,436.48 493.12,436.52 492.81,436.56 492.49,436.60 492.18,436.63 491.86,436.67 491.54,436.69 491.23,436.72 490.91,436.75 490.60,436.77 490.28,436.79 489.97,436.81 489.65,436.83 489.33,436.85 489.02,436.86 488.70,436.87 488.39,436.89 488.07,436.90 487.76,436.91 487.44,436.92 487.13,436.93 486.81,436.94 486.49,436.94 486.18,436.95 485.86,436.96 485.55,436.96 485.23,436.97 484.92,436.97 484.60,436.98 484.28,436.98 483.97,436.99 483.65,436.99 483.34,436.99 483.02,436.99 482.71,437.00 482.39,437.00 482.08,437.00 481.76,437.00 481.44,437.00 481.13,437.01 480.81,437.01 480.50,437.01 480.18,437.01 479.87,437.01 479.55,437.01 479.23,437.01 478.92,437.01 478.60,437.01 478.29,437.01 477.97,437.01 477.66,437.01 477.34,437.02 477.03,437.02 476.71,437.02 476.39,437.02 476.08,437.02 475.76,437.02 475.45,437.02 475.13,437.02 474.82,437.02 474.50,437.02 474.18,437.02 473.87,437.02 473.55,437.02 473.24,437.02 472.92,437.02 472.61,437.02 472.29,437.02 471.98,437.02 471.66,437.02 471.34,437.02 471.03,437.02 470.71,437.02 470.40,437.02 470.08,437.02 469.77,437.02 469.45,437.02 469.13,437.02 468.82,437.02 468.50,437.02 468.19,437.02 467.87,437.02 467.56,437.02 467.24,437.02 466.93,437.02 466.61,437.02 466.29,437.02 465.98,437.02 465.66,437.02 465.35,437.02 465.03,437.02 464.72,437.02 464.40,437.02 464.08,437.02 463.77,437.02 463.45,437.02 463.14,437.02 462.82,437.02 462.51,437.02 462.19,437.02 461.88,437.02 461.56,437.02 461.24,437.02 460.93,437.02 460.61,437.02 460.30,437.02 459.98,437.02 459.67,437.02 459.35,437.02 459.03,437.02 458.72,437.02 458.40,437.02 458.09,437.02 457.77,437.02 457.46,437.02 457.14,437.02 456.83,437.02 456.51,437.02 456.19,437.02 455.88,437.02 455.56,437.02 455.25,437.02 454.93,437.02 454.62,437.02 454.30,437.02 453.98,437.02 453.67,437.02 453.35,437.02 453.04,437.02 452.72,437.02 452.41,437.02 452.09,437.02 451.78,437.02 451.46,437.02 451.14,437.02 450.83,437.02 450.51,437.02 450.20,437.02 449.88,437.02 449.57,437.02 449.25,437.02 448.93,437.02 448.62,437.02 448.30,437.02 447.99,437.02 447.67,437.02 447.36,437.02 447.04,437.02 446.73,437.02 446.41,437.02 446.09,437.02 445.78,437.02 445.46,437.02 445.15,437.02 444.83,437.02 444.52,437.02 444.20,437.02 443.88,437.02 443.57,437.02 443.25,437.02 442.94,437.02 442.62,437.02 442.31,437.02 441.99,437.02 441.68,437.02 441.36,437.02 441.04,437.02 440.73,437.02 440.41,437.02 440.10,437.02 439.78,437.02 439.47,437.02 439.15,437.02 438.83,437.02 438.52,437.02 438.20,437.02 437.89,437.02 437.57,437.02 437.26,437.02 436.94,437.02 436.63,437.02 436.31,437.02 435.99,437.02 435.68,437.02 435.36,437.02 435.05,437.02 434.73,437.02 434.42,437.02 434.10,437.02 433.78,437.02 433.47,437.02 433.15,437.02 432.84,437.02 432.52,437.02 432.21,437.02 431.89,437.02 431.58,437.02 431.26,437.02 430.94,437.02 430.63,437.02 430.31,437.02 430.00,437.02 429.68,437.02 429.37,437.02 429.05,437.02 428.73,437.02 428.42,437.02 428.10,437.02 427.79,437.02 427.47,437.02 427.16,437.02 426.84,437.02 426.53,437.02 426.21,437.02 425.89,437.02 425.58,437.02 425.26,437.02 424.95,437.02 424.63,437.02 424.32,437.02 424.00,437.02" fill="none" stroke="#2d2a6c" stroke-width="1.5" stroke-linejoin="round" />
<text transform="translate(411.23,450.55) scale(0.8800,1.0000)" font-size="12.6" fill="#111" stroke="#111" stroke-width="0.25">0</text>
<text transform="translate(398.93,399.45) scale(0.8800,1.0000)" font-size="12.6" fill="#111" stroke="#111" stroke-width="0.25">400</text>
<text transform="translate(398.93,348.35) scale(0.8800,1.0000)" font-size="12.6" fill="#111" stroke="#111" stroke-width="0.25">800</text>
<text transform="translate(392.72,297.25) scale(0.8800,1.0000)" font-size="12.6" fill="#111" stroke="#111" stroke-width="0.25">1200</text>
<text transform="translate(392.72,246.15) scale(0.8800,1.0000)" font-size="12.6" fill="#111" stroke="#111" stroke-width="0.25">1600</text>
<text transform="translate(669.95,463.51) scale(0.8700,1.0000)" font-size="13.3" fill="#111" stroke="#111" stroke-width="0.25">50</text>
<text transform="translate(606.91,463.51) scale(0.8700,1.0000)" font-size="13.3" fill="#111" stroke="#111" stroke-width="0.25">52</text>
<text transform="translate(543.67,463.38) scale(0.8700,1.0000)" font-size="13.3" fill="#111" stroke="#111" stroke-width="0.25">54</text>
<text transform="translate(480.6,463.51) scale(0.8700,1.0000)" font-size="13.3" fill="#111" stroke="#111" stroke-width="0.25">56</text>
<text transform="translate(417.48,463.51) scale(0.8700,1.0000)" font-size="13.3" fill="#111" stroke="#111" stroke-width="0.25">58</text>
<text transform="translate(430.64,274.19) scale(0.9069,1.0000)" font-size="39.2" fill="#111" stroke="#111" stroke-width="0.35">(c)</text>
<text transform="translate(523.52,311.8) rotate(-90) scale(1.0486,1.0000)" font-size="20.63" fill="#111" stroke="#111" stroke-width="0.35">Se</text>
<text transform="translate(530.09,284.68) rotate(-90) scale(1.2434,1.0000)" font-size="13.27" fill="#111" stroke="#111" stroke-width="0.35">3d3/2</text>
<text transform="translate(583.11,316.88) rotate(-90) scale(1.0939,1.0000)" font-size="21.48" fill="#111" stroke="#111" stroke-width="0.35">Se</text>
<text transform="translate(590.09,287.51) rotate(-90) scale(1.2934,1.0000)" font-size="13.27" fill="#111" stroke="#111" stroke-width="0.35">3d5/2</text>
<text transform="translate(391.85,430.93) rotate(-90) scale(1.0931,1.0000)" font-size="19.41" fill="#111" stroke="#111" stroke-width="0.35">Intensity (counts/s)</text>
<text transform="translate(483.85,480.8) scale(0.9390,1.0000)" font-size="16.31" fill="#111" stroke="#111" stroke-width="0.35">Binding Energy (eV)</text>
</svg>
</body></html>
